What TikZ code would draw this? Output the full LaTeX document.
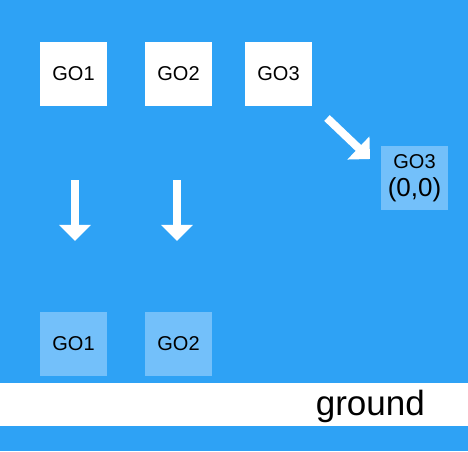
\documentclass[tikz,border=0pt]{standalone}
\usepackage{fontspec}
\setmainfont{Liberation Sans}
\usetikzlibrary{arrows.meta}
\definecolor{bgblue}{RGB}{46,162,245}
\definecolor{ghost}{RGB}{115,192,250}
\begin{document}
\begin{tikzpicture}[x=1pt,y=-1pt,
  gobox/.style={fill=white,minimum width=67pt,minimum height=64pt,inner sep=0pt,font=\fontsize{20}{24}\selectfont},
  ghostbox/.style={gobox,fill=ghost},
  bigarrow/.style={draw=white,line width=8pt,-{Triangle[width=31pt,length=16pt]}}]
\fill[bgblue] (0,0) rectangle (468,451);
\useasboundingbox (0,0) rectangle (468,451);
\fill[white] (0,383) rectangle (468,426);
\node[anchor=base east,inner sep=0pt,font=\fontsize{35}{38}\selectfont] (ground) at (425,415) {ground};
\node[gobox] (g1) at (73.5,74) {GO1};
\node[gobox] (g2) at (178.5,74) {GO2};
\node[gobox] (g3) at (278.5,74) {GO3};
\node[ghostbox] (b1) at (73.5,344) {GO1};
\node[ghostbox] (b2) at (178.5,344) {GO2};
\node[ghostbox,align=center,font=\fontsize{20}{30}\selectfont] (b3) at (414.5,178) {\raisebox{3pt}{\shortstack{GO3\\[6pt]\fontsize{26}{30}\selectfont (0,0)}}};
\draw[bigarrow,shorten <=74pt,shorten >=71pt] ([xshift=1.5pt]g1.south) -- ([xshift=1.5pt]b1.north);
\draw[bigarrow,shorten <=74pt,shorten >=71pt] ([xshift=-1.5pt]g2.south) -- ([xshift=-1.5pt]b2.north);
\coordinate (d1) at (327,118);
\coordinate (d2) at (370,159);
\draw[bigarrow] (d1) -- (d2);
\end{tikzpicture}
\end{document}
